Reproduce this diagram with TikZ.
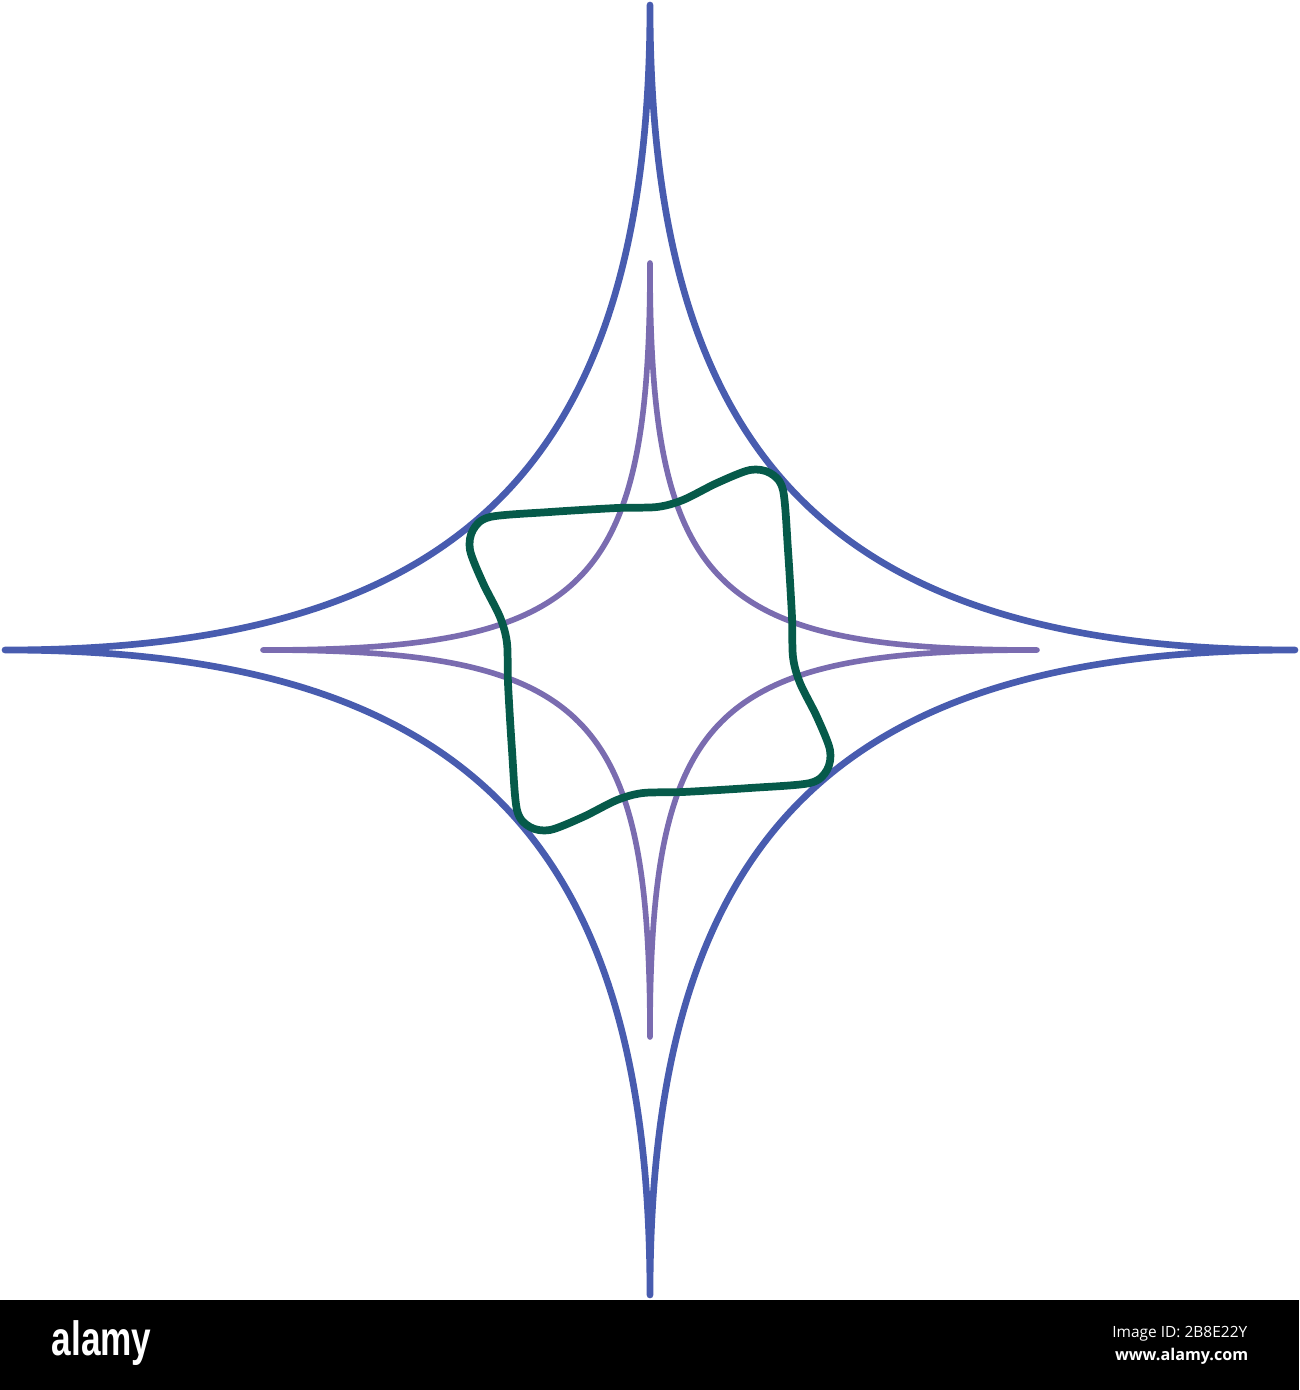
\documentclass[tikz,border=0pt]{standalone}
\usepackage{fontspec}
\newfontfamily\logofont{Liberation Sans}
\newfontfamily\idfont{Open Sans}
\definecolor{outerclr}{RGB}{72,92,175}
\definecolor{innerclr}{RGB}{122,108,176}
\definecolor{ringclr}{RGB}{6,90,74}
\tikzset{ %
  ,outer/.style={draw=outerclr, line width=1.9pt, line join=round, line cap=round}
  ,inner/.style={draw=innerclr, line width=1.6pt, line join=round, line cap=round}
  ,ring/.style={draw=ringclr, line width=2.2pt}
  ,logo/.style={text=white, inner sep=0, font=\logofont\bfseries}
  ,idtxt/.style={text=white, inner sep=0, font=\idfont}
}
% four cusped star: style, tip radius, control distance
\newcommand{\sparkle}[3]{%
  \draw[#1] (0,#2) .. controls (0,#3) and (#3,0) .. (#2,0)
    .. controls (#3,0) and (0,-#3) .. (0,-#2)
    .. controls (0,-#3) and (-#3,0) .. (-#2,0)
    .. controls (-#3,0) and (0,#3) .. cycle;}

\begin{document}
\begin{tikzpicture}[x=0.01cm, y=0.01cm]
      \useasboundingbox (-650,-740) rectangle (649,650);
      \sparkle{outer}{645}{187}
      \sparkle{inner}{387}{62}
      \draw[ring] plot[smooth cycle] coordinates {
        (-177,120) (-160,133) (-100,138) (-33,142) (7,143) (33,150) (67,167) (100,180)
        (120,177) (133,160) (138,100) (142,33) (143,-7) (150,-33) (167,-67) (180,-100)
        (177,-120) (160,-133) (100,-138) (33,-142) (-7,-143) (-33,-150) (-67,-167) (-100,-180)
        (-120,-177) (-133,-160) (-138,-100) (-142,-33) (-143,7) (-150,33) (-167,67) (-180,100)};
      % watermark bar
      \fill[black] (-650,-740) rectangle (649,-650);
      \node[logo, anchor=base west] (logo) at (-599,-705)
        {\fontsize{13.7}{14}\selectfont\scalebox{0.73}[1]{alamy}};
      \node[idtxt, anchor=base east] (imgid) at (598,-687)
        {\fontsize{4.4}{5}\selectfont Image ID: 2B8E22Y};
      \node[idtxt, anchor=base east] (site) at (599,-710)
        {\fontsize{4.6}{5}\selectfont\bfseries www.alamy.com};
    \end{tikzpicture}
\end{document}
